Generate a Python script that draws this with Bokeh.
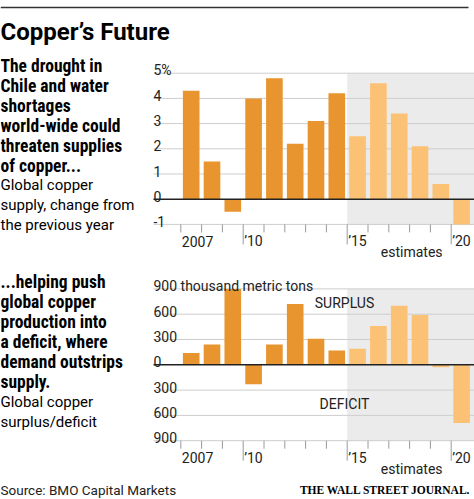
from bokeh.plotting import figure
from bokeh.models import Range1d, ColumnDataSource
from bokeh.core.properties import value
from bokeh.embed import file_html
from bokeh.resources import INLINE

# ---------------- data ----------------
years = list(range(2007, 2021))
supply_change = [4.3, 1.5, -0.5, 4.0, 4.8, 2.2, 3.1, 4.2, 2.5, 4.6, 3.4, 2.1, 0.6, -1.0]
balance = [140, 240, 900, -230, 240, 720, 310, 170, 190, 460, 700, 590, -30, -690]
first_estimate_year = 2015

top_ticks = [5, 4, 3, 2, 1, 0, -1]
top_tick_labels = ["5%", "4", "3", "2", "1", "0", "-1"]
bottom_ticks = [900, 600, 300, 0, -300, -600, -900]
bottom_tick_labels = ["900 thousand metric tons", "600", "300", "0", "300", "600", "900"]
year_label_years = [2007, 2010, 2015, 2020]
year_labels = ["2007", "\u201910", "\u201915", "\u201920"]

title_text = "Copper\u2019s Future"
top_heading = ["The drought in", "Chile and water", "shortages", "world-wide could",
               "threaten supplies", "of copper..."]
top_sub = ["Global copper", "supply, change from", "the previous year"]
bottom_heading = ["...helping push", "global copper", "production into",
                  "a deficit, where", "demand outstrips", "supply."]
bottom_sub = ["Global copper", "surplus/deficit"]
source_text = "Source: BMO Capital Markets"
credit_text = "THE WALL STREET JOURNAL."

# ---------------- layout / style ----------------
W, H = 474, 499
BAR0_PX, STEP_PX = 190.7, 20.8
TOP_ZERO_PX, TOP_UNIT_PX = 198.7, 25.2
BOT_ZERO_PX, BOT_UNIT_PX = 364.3, 25.3 / 300.0
GRID_LEFT_PX = 153

DARK = "#E8952F"
LIGHT = "#FBC275"
SHADE = "#EBEBEB"
GRID = "#CDCDCD"
TICKC = "#9A9A9A"
INK = "#222222"

NARROW = "Roboto Condensed"
REG = "Roboto"

p = figure(width=W, height=H, output_backend="svg", toolbar_location=None,
           x_range=Range1d(0, W), y_range=Range1d(H, 0),
           x_axis_location=None, y_axis_location=None, min_border=0,
           outline_line_color=None, background_fill_color="white")
p.grid.visible = False

yr_start = 2007 - BAR0_PX / STEP_PX
yr_end = 2007 + (W - BAR0_PX) / STEP_PX
p.extra_x_ranges = {"yr": Range1d(yr_start, yr_end)}
p.extra_y_ranges = {
    "top": Range1d((TOP_ZERO_PX - H) / TOP_UNIT_PX, TOP_ZERO_PX / TOP_UNIT_PX),
    "bot": Range1d((BOT_ZERO_PX - H) / BOT_UNIT_PX, BOT_ZERO_PX / BOT_UNIT_PX),
}
grid_left_yr = 2007 + (GRID_LEFT_PX - BAR0_PX) / STEP_PX


def draw_chart(vals, ticks, tick_labels, yname, unit_px, ann=None):
    kw = dict(x_range_name="yr", y_range_name=yname)
    top, bottom = max(ticks), min(ticks)
    # estimates shading
    p.quad(left=first_estimate_year - 0.5, right=yr_end + 1, top=top, bottom=bottom,
           fill_color=SHADE, line_color=None, **kw)
    # gridlines
    gt = [t for t in ticks if t != 0]
    p.segment(x0=[grid_left_yr] * len(gt), x1=[yr_end + 1] * len(gt), y0=gt, y1=gt,
              line_color=GRID, line_width=1, **kw)
    # bars
    colors = [LIGHT if y >= first_estimate_year else DARK for y in years]
    src = ColumnDataSource(dict(x=years, top=vals, color=colors))
    p.vbar(x="x", top="top", bottom=0, width=0.8, fill_color="color",
           line_color=None, source=src, **kw)
    # zero line
    p.segment(x0=[grid_left_yr], x1=[yr_end + 1], y0=[0], y1=[0],
              line_color=INK, line_width=1.5, **kw)
    # tick labels on y
    p.text(x=[grid_left_yr] * len(ticks), y=ticks, text=tick_labels,
           text_font=value(REG), text_font_size="14px", text_color=INK,
           text_align="left", text_baseline="alphabetic", y_offset=-3, **kw)
    # x ticks
    bounds = [y - 0.5 for y in years]
    long_b = [b for b in bounds if b + 0.5 in year_label_years and b + 0.5 != years[0]]
    short_b = [b for b in bounds if b not in long_b]
    p.segment(x0=short_b, x1=short_b, y0=[bottom] * len(short_b),
              y1=[bottom - 8 / unit_px] * len(short_b), line_color=TICKC, line_width=1, **kw)
    p.segment(x0=long_b, x1=long_b, y0=[bottom] * len(long_b),
              y1=[bottom - 20 / unit_px] * len(long_b), line_color=TICKC, line_width=1, **kw)
    # x labels
    p.text(x=[y - 0.5 for y in year_label_years], y=[bottom - 17 / unit_px] * len(year_labels),
           text=year_labels, text_font=value(REG), text_font_size="14px", text_color=INK,
           text_align="left", text_baseline="middle", x_offset=1, **kw)
    p.text(x=[2017.6], y=[bottom - 28 / unit_px], text=["estimates"],
           text_font=value(REG), text_font_size="14px", text_color=INK,
           text_align="center", text_baseline="middle", **kw)
    if ann:
        p.text(x=[a[0] for a in ann], y=[a[1] for a in ann], text=[a[2] for a in ann],
               text_font=value(REG), text_font_size="14px", text_color=INK,
               text_align="center", text_baseline="middle", **kw)


draw_chart(supply_change, top_ticks, top_tick_labels, "top", TOP_UNIT_PX)
draw_chart(balance, bottom_ticks, bottom_tick_labels, "bot", BOT_UNIT_PX,
           ann=[(2014.37, 727, "SURPLUS"), (2014.37, -459, "DEFICIT")])

# top rule
p.segment(x0=[0], x1=[468], y0=[7], y1=[7], line_color="#333333", line_width=1.5)

# title
p.text(x=[0], y=[31], text=[title_text], text_font=value(REG), text_font_size="24px",
       text_font_style="bold", text_color="black", text_baseline="middle")


def block(lines, y0, bold):
    ys = [y0 + 20 * i for i in range(len(lines))]
    p.text(x=[0] * len(lines), y=ys, text=lines, text_font=value(NARROW if bold else REG),
           text_font_size="17.5px" if bold else "15px",
           text_font_style="bold" if bold else "normal",
           text_color="black", text_baseline="middle")


block(top_heading, 65, True)
block(top_sub, 184.5, False)
block(bottom_heading, 281, True)
block(bottom_sub, 401.5, False)

p.text(x=[0], y=[489], text=[source_text], text_font=value(REG), text_font_size="13.5px",
       text_color=INK, text_baseline="middle")
p.text(x=[470], y=[489], text=[credit_text], text_font=value("Liberation Serif"),
       text_font_size="11.5px", text_font_style="bold", text_color="black",
       text_align="right", text_baseline="middle")

open("out.html", "w").write(file_html(p, INLINE))
